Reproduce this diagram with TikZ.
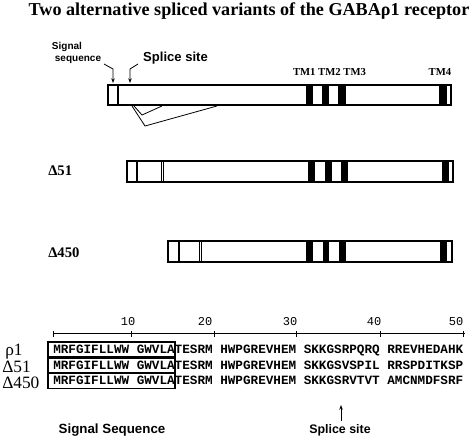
\documentclass[tikz,border=0pt]{standalone}
\usepackage{fontspec}
\setmainfont{Liberation Serif}
\setsansfont{Liberation Sans}
\setmonofont{Liberation Mono}
\usetikzlibrary{arrows.meta}
\begin{document}
\begin{tikzpicture}[x=0.75pt,y=-0.75pt,
  bar/.style={draw=black, line width=1.2pt, fill=white},
  divider/.style={draw=black, line width=0.9pt},
  thinline/.style={draw=black, line width=0.6pt},
  tmband/.style={fill=black},
  ptr/.style={draw=black, line width=0.6pt, -{Stealth[length=3.5pt,width=2.6pt]}},
  lbl/.style={inner sep=0pt, anchor=base},
  sanslbl/.style={lbl, font=\sffamily\bfseries},
  seqtext/.style={inner sep=0pt, anchor=base west, font=\ttfamily\bfseries\fontsize{9.49}{11}\selectfont},
  rowlbl/.style={inner sep=0pt, anchor=base west, font=\fontsize{13}{15}\selectfont},
  varlbl/.style={inner sep=0pt, anchor=base west, font=\bfseries\fontsize{11}{13}\selectfont},
  sigbox/.style={draw=black, line width=0.8pt, minimum width=95.25pt, minimum height=11.25pt, inner sep=0pt},
  axnum/.style={lbl, font=\ttfamily\fontsize{9}{10}\selectfont}]
\useasboundingbox (0,0) rectangle (474,439);

% Title
\node[lbl, font=\bfseries\fontsize{13.6}{16}\selectfont] (title) at (249,15.5)
  {Two alternative spliced variants of the GABAρ1 receptor};

% ---------- rho1 full bar ----------
\draw[bar] (108,85) rectangle (451,105);
\draw[divider] (118,85) -- (118,105);
\foreach \a/\b in {306/313, 322/329, 338/346, 439/447}
  \fill[tmband] (\a,85) rectangle (\b,105);
% spliced loop
\draw[thinline] (132,106) -- (145,126) -- (217,106);
\draw[thinline] (134,106) -- (142,115) -- (162,106);

% labels on top
\node[sanslbl, font=\sffamily\bfseries\fontsize{7.5}{9}\selectfont] (sig1) at (67,49.5) {Signal};
\node[sanslbl, font=\sffamily\bfseries\fontsize{7.5}{9}\selectfont] (sig2) at (78,61.5) {sequence};
\node[sanslbl, font=\sffamily\bfseries\fontsize{9.8}{11}\selectfont] (splice1) at (175.5,61) {Splice site};
\coordinate (sigA) at (104,64);
\coordinate (sigB) at (113,69);
\coordinate (sigC) at (113,83);
\coordinate (spA) at (138,64);
\coordinate (spB) at (130,69);
\coordinate (spC) at (130,83);
\draw[ptr] (sigA) -- (sigB) -- (sigC);
\draw[ptr] (spA) -- (spB) -- (spC);
\node[lbl, font=\bfseries\fontsize{8}{9}\selectfont] (tmlab) at (329.5,75) {TM1 TM2 TM3};
\node[lbl, font=\bfseries\fontsize{8}{9}\selectfont] (tm4lab) at (440,75) {TM4};

% ---------- Delta51 bar ----------
\node[varlbl] (d51) at (48,175) {Δ51};
\draw[bar] (127,161) rectangle (453,182);
\draw[divider] (137,161) -- (137,182);
\draw[thinline] (161,161) -- (161,182);
\draw[thinline] (163,161) -- (163,182);
\foreach \a/\b in {308/315, 325/332, 341/348, 442/449}
  \fill[tmband] (\a,161) rectangle (\b,182);

% ---------- Delta450 bar ----------
\node[varlbl] (d450) at (48,257) {Δ450};
\draw[bar] (168,241) rectangle (452,262);
\draw[divider] (179,241) -- (179,262);
\draw[thinline] (199,241) -- (199,262);
\draw[thinline] (201,241) -- (201,262);
\foreach \a/\b in {306/313, 323/329, 339/346, 440/447}
  \fill[tmband] (\a,241) rectangle (\b,262);

% ---------- sequence axis ----------
\draw[thinline] (53,333) -- (465,333);
\foreach \t in {53,131,214,296,380,463}
  \draw[thinline] (\t,331) -- (\t,337);
\node[axnum] (n10) at (128,325) {10};
\node[axnum] (n20) at (205,325) {20};
\node[axnum] (n30) at (290,325) {30};
\node[axnum] (n40) at (374,325) {40};
\node[axnum] (n50) at (456,325) {50};

% ---------- sequences ----------
\node[rowlbl] (r1) at (5,355) {ρ1};
\node[rowlbl] (r2) at (2,372) {Δ51};
\node[rowlbl] (r3) at (2,388) {Δ450};

\node[sigbox] (box1) at (111.5,349.5) {};
\node[sigbox] (box2) at (111.5,365.5) {};
\node[sigbox] (box3) at (111.5,381) {};

\node[seqtext] (s1) at (53,353) {MRFGIFLLWW GWVLATESRM HWPGREVHEM SKKGSRPQRQ RREVHEDAHK};
\node[seqtext] (s2) at (53,369) {MRFGIFLLWW GWVLATESRM HWPGREVHEM SKKGSVSPIL RRSPDITKSP};
\node[seqtext] (s3) at (53,384.5) {MRFGIFLLWW GWVLATESRM HWPGREVHEM SKKGSRVTVT AMCNMDFSRF};

% bottom labels
\node[sanslbl, font=\sffamily\bfseries\fontsize{10}{12}\selectfont] (sigseq) at (112,433) {Signal Sequence};
\node[sanslbl, font=\sffamily\bfseries\fontsize{9.3}{11}\selectfont] (splice2) at (340,433) {Splice site};
\coordinate (spD) at (341,421);
\coordinate (spE) at (341,405);
\draw[ptr] (spD) -- (spE);
\end{tikzpicture}
\end{document}
